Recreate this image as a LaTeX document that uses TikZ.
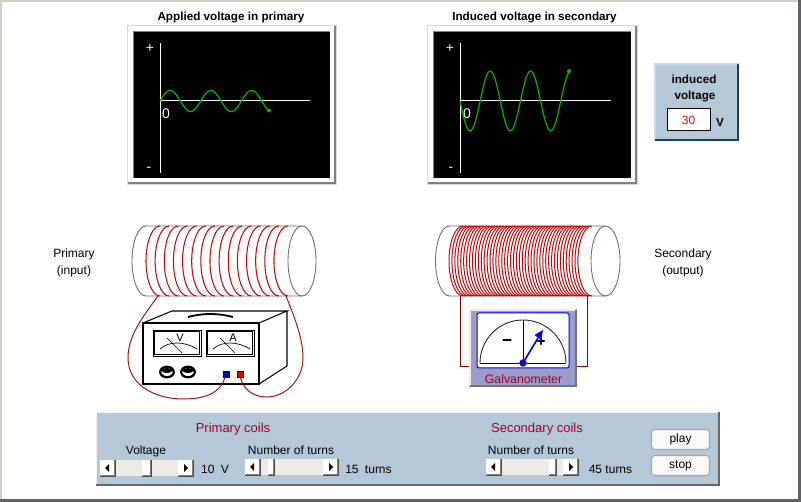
\documentclass[tikz,border=0pt]{standalone}
\usepackage{fontspec}
\setmainfont{Liberation Sans}
\definecolor{panelblue}{HTML}{B5C8D8}
\definecolor{panellight}{HTML}{C5D8F0}
\definecolor{paneldark}{HTML}{1F3F66}
\definecolor{coilred}{HTML}{C00808}
\definecolor{wirered}{HTML}{A01515}
\definecolor{darkwire}{HTML}{8C0000}
\definecolor{tubegray}{HTML}{707070}
\definecolor{galvblue}{HTML}{9C9CCC}
\definecolor{headred}{HTML}{A00020}
\definecolor{trackgray}{HTML}{EDEBE8}
\definecolor{wavegreen}{HTML}{00B400}
\definecolor{framelight}{HTML}{D4D0C8}
\definecolor{framedark}{HTML}{606068}
\tikzset{
  lbl/.style={inner sep=0pt,yshift=-1.2pt,font=\fontsize{12}{14}\selectfont,text=black},
  boldlbl/.style={lbl,font=\fontsize{11.7}{14}\selectfont\bfseries},
  headlbl/.style={lbl,font=\fontsize{13}{15}\selectfont,text=headred},
  axislbl/.style={lbl,text=white,font=\fontsize{14}{16}\selectfont},
  axisline/.style={white,line width=1pt},
  wave/.style={wavegreen,line width=1.2pt,smooth},
  tube/.style={tubegray,line width=0.9pt},
  coilturn/.style={coilred,line width=1.05pt},
  fineturn/.style={coilred,line width=1pt},
  wire/.style={wirered,line width=1pt},
  boxline/.style={black,line width=1.05pt},
}
% scroll bar: x1 x2 y1 y2 thumb1 thumb2
\newcommand{\sliderbar}[6]{%
  \fill[trackgray] (#1,#3) rectangle (#2,#4);
  \pgfmathsetmacro{\btnr}{#1+15}
  \pgfmathsetmacro{\btnl}{#2-15}
  \pgfmathsetmacro{\ymid}{(#3+#4)/2}
  \foreach \xa/\xb in {#1/\btnr,\btnl/#2,#5/#6}{
    \fill[white] (\xa,#3) rectangle (\xb,#4);
    \draw[gray,line width=1pt] (\xa+0.5,#4-0.5) -- (\xb-0.5,#4-0.5) -- (\xb-0.5,#3+0.5);
    \draw[black!70,line width=0.6pt] (\xa,#4) -- (\xb,#4) -- (\xb,#3);
  }
  \pgfmathsetmacro{\ctl}{#1+7.5}
  \pgfmathsetmacro{\ctr}{#2-7.5}
  \fill[black] (\ctl-2.5,\ymid) -- (\ctl+1.5,\ymid-4) -- (\ctl+1.5,\ymid+4) -- cycle;
  \fill[black] (\ctr+2.5,\ymid) -- (\ctr-1.5,\ymid-4) -- (\ctr-1.5,\ymid+4) -- cycle;
}
% raised panel: x1 y1 x2 y2 fill light dark
\newcommand{\raisedpanel}[7]{%
  \fill[#5] (#1,#2) rectangle (#3,#4);
  \draw[#6,line width=2pt] (#1+1,#4-1) -- (#1+1,#2+1) -- (#3-1,#2+1);
  \draw[#7,line width=2pt] (#1+1,#4-1) -- (#3-1,#4-1) -- (#3-1,#2+1);
}
\begin{document}
\begin{tikzpicture}[x=1pt,y=-1pt]
\useasboundingbox (0,0) rectangle (801,502);
\fill[white] (0,0) rectangle (801,502);
% window frame
\fill[framelight] (0,0) rectangle (801,2);
\fill[framelight] (0,0) rectangle (2,502);
\fill[framedark] (798,0) rectangle (801,502);
\fill[framedark] (0,499) rectangle (801,502);

% --- graph 1
\node[boldlbl] (title1) at (231,16) {Applied voltage in primary};
\raisedpanel{127}{25}{336}{184}{white}{white}{gray}
\draw[black!15,line width=0.5pt] (127,25) rectangle (336,184);
\fill[black] (133,31) rectangle (330,178);
\draw[gray,line width=0.7pt] (133,178) -- (133,31) -- (330,31);
\coordinate (v1a) at (160,43); \coordinate (v1b) at (160,173);
\coordinate (h1a) at (160,101); \coordinate (h1b) at (310,101);
\draw[axisline] (v1a) -- (v1b);
\draw[axisline] (h1a) -- (h1b);
\node[axislbl,text=yellow!25!white] (plus1) at (150,47) {+};
\node[axislbl] (minus1) at (149,168) {-};
\node[axislbl] (zero1) at (166,112.5) {0};
\draw[wave] plot[domain=160:269,samples=90] (\x,{101-10.5*sin(8.845*(\x-160))});
\fill[wavegreen] (269,110.5) circle (2);

% --- graph 2
\node[boldlbl] (title2) at (534.5,16) {Induced voltage in secondary};
\raisedpanel{427}{25}{637}{184}{white}{white}{gray}
\draw[black!15,line width=0.5pt] (427,25) rectangle (637,184);
\fill[black] (433,31) rectangle (631,178);
\draw[gray,line width=0.7pt] (433,178) -- (433,31) -- (631,31);
\coordinate (v2a) at (460,43); \coordinate (v2b) at (460,173);
\coordinate (h2a) at (460,101); \coordinate (h2b) at (611,101);
\draw[axisline] (v2a) -- (v2b);
\draw[axisline] (h2a) -- (h2b);
\node[axislbl,text=yellow!25!white] (plus2) at (450,47) {+};
\node[axislbl] (minus2) at (451,168) {-};
\node[axislbl] (zero2) at (467,112.5) {0};
\draw[wave] plot[domain=460:569,samples=90] (\x,{101+30*sin(8.933*(\x-460))});
\fill[wavegreen] (569,71) circle (2);

% --- induced voltage readout
\raisedpanel{654}{63}{739}{141}{panelblue}{panellight}{paneldark}
\node[boldlbl] (ind1) at (694,78) {induced};
\node[boldlbl] (ind2) at (695,95) {voltage};
\node[draw=black,line width=1pt,fill=white,minimum width=43pt,minimum height=22pt,inner sep=0pt,font=\fontsize{12}{14}\selectfont,text=red] (readout) at (688.5,120) {30};
\node[boldlbl] (unit) at (720,121) {V};

% --- side labels
\node[lbl] (pri1) at (74,253) {Primary};
\node[lbl] (pri2) at (74,270) {(input)};
\node[lbl] (sec1) at (683,253) {Secondary};
\node[lbl] (sec2) at (683,270) {(output)};

% --- primary coil tube
\draw[tube] (302,226) -- (146,226) arc[start angle=90,end angle=270,x radius=14pt,y radius=35pt] -- (302,296);
\draw[tube] (302,261) ellipse[x radius=14pt,y radius=35pt];
\foreach \i in {0,...,14}{
  \pgfmathsetmacro{\cx}{160+9.14*\i}
  \draw[coilturn] (\cx,226) arc[start angle=90,end angle=270,x radius=14pt,y radius=35pt];
}

% --- secondary coil tube
\draw[tube] (605.5,226) -- (449.5,226) arc[start angle=90,end angle=270,x radius=14pt,y radius=35pt] -- (605.5,296);
\draw[tube] (605.5,261) ellipse[x radius=14.5pt,y radius=35pt];
\foreach \i in {0,...,44}{
  \pgfmathsetmacro{\cx}{463+2.93*\i}
  \draw[fineturn] (\cx,226) arc[start angle=90,end angle=270,x radius=14pt,y radius=35pt];
}

% --- power supply
\fill[white] (143,323) -- (172,311) -- (287,311) -- (287,366) -- (259,384) -- (143,384) -- cycle;
\draw[boxline] (143,323) rectangle (259,384);
\draw[boxline] (143,323) -- (172,311) -- (287,311) -- (259,323);
\draw[boxline] (287,311) -- (287,366) -- (259,384);
\draw[black,line width=1.8pt] (188,317) .. controls (203,313) and (218,313) .. (233,317);
\foreach \mx/\lt in {153/V,206/A}{
  \draw[black,line width=0.9pt] (\mx,330) rectangle ++(48,26);
  \draw[black,line width=0.7pt] (\mx+1.5,331.5) rectangle ++(45,23);
  \draw[black,line width=0.7pt] (\mx+7,349) .. controls (\mx+16,341) and (\mx+31,341) .. (\mx+44,349);
  \draw[black,line width=0.7pt] (\mx+14,338) -- (\mx+29,353);
  \node[lbl,font=\fontsize{11}{12}\selectfont] at (\mx+27,337) {\lt};
}
\foreach \kx in {167,188}{
  \draw[black,line width=2.2pt,fill=white] (\kx,372) ellipse[x radius=6.8pt,y radius=5.3pt];
  \fill[black] (\kx,370.5) ellipse[x radius=5.5pt,y radius=2.5pt];
}
\fill[blue!85!black] (223.5,371) rectangle (229.5,377);
\draw[black!80!blue,line width=0.6pt] (223.5,371) rectangle (229.5,377);
\fill[red!85!black] (237.5,371) rectangle (243.5,377);
\draw[black!70!red,line width=0.6pt] (237.5,371) rectangle (243.5,377);
\coordinate (blueterm) at (225,377);
\coordinate (redterm) at (240,377);
\coordinate (p1end) at (158,296);
\coordinate (p2end) at (286,296);
\draw[wire] (p1end) .. controls (142,318) and (128,336) .. (128,358)
   .. controls (128,385) and (155,399) .. (183,399)
   .. controls (205,399) and (221,393) .. (blueterm);
\draw[wire] (p2end) .. controls (294,316) and (303,338) .. (303,358)
   .. controls (303,380) and (285,397) .. (267,397)
   .. controls (253,397) and (244,390) .. (redterm);

% --- galvanometer wires
\coordinate (g1) at (460,296); \coordinate (g1c) at (460,367); \coordinate (g1e) at (470,367);
\coordinate (g2) at (587,296); \coordinate (g2c) at (587,367); \coordinate (g2e) at (576,367);
\draw[darkwire,line width=1pt] (g1) -- (g1c) -- (g1e);
\draw[darkwire,line width=1pt] (g2) -- (g2c) -- (g2e);

% --- galvanometer
\raisedpanel{469}{309}{577}{387}{galvblue}{black!8}{black!55}
\draw[blue!90!black,line width=1pt,fill=white,rounded corners=2pt] (477,313) rectangle (569,368);
\draw[black,line width=0.9pt] (480,363) -- (566,363);
\draw[black!85,line width=0.9pt] (480,363) .. controls (480,339.5) and (499,320) .. (523,320)
   .. controls (547,320) and (566,339.5) .. (566,363);
\draw[black,line width=0.9pt] (523,320) -- (523,363);
\draw[black,line width=2.6pt,line cap=round] (503.5,340) -- (510.5,340);
\draw[black,line width=2.2pt,line cap=round] (538,341) -- (544,341);
\draw[black,line width=2.2pt,line cap=round] (541,338) -- (541,344);
\coordinate (pivot) at (523,363);
\coordinate (tip) at (543,330);
\draw[blue,line width=1.7pt] (pivot) -- (538,338);
\fill[blue] (tip) -- (534.5,335) -- (541,340) -- cycle;
\fill[blue!90!black] (pivot) circle (3.5);
\draw[black!70,line width=0.5pt] (pivot) circle (3.5);
\node[lbl,text=headred,font=\fontsize{12.3}{14}\selectfont] (galv) at (523.5,378) {Galvanometer};

% --- control panel
\fill[panelblue] (96,412) rectangle (719,486);
\draw[white!90!gray,line width=1.5pt] (96,412.5) -- (719,412.5);
\draw[white!90!gray,line width=1.5pt] (96.5,412) -- (96.5,486);
\draw[black!60,line width=2pt] (96,485.5) -- (719,485.5) -- (719,412);
\node[headlbl] (pcoils) at (233,428) {Primary coils};
\node[headlbl] (scoils) at (537,428) {Secondary coils};
\node[lbl] (volt) at (146,450) {Voltage};
\node[lbl] (turns1) at (291,449) {Number of turns};
\node[lbl] (turns2) at (531,449) {Number of turns};
\node[lbl] (val1) at (215,468) {10\hspace{3pt} V};
\node[lbl] (val2) at (368.5,468) {15\hspace{3pt} turns};
\node[lbl] (val3) at (610.5,468) {45 turns};
\sliderbar{100}{193}{460}{476}{142}{151}
\sliderbar{245}{338}{459}{475}{268}{274}
\sliderbar{486}{578}{459}{475}{549}{556}
\node[draw=black!35,line width=1.2pt,fill=white!95!gray,rounded corners=3pt,minimum width=58pt,minimum height=20pt,inner sep=0pt,font=\fontsize{12}{14}\selectfont] (play) at (680.5,439.5) {play};
\node[draw=black!35,line width=1.2pt,fill=white!95!gray,rounded corners=3pt,minimum width=58pt,minimum height=20pt,inner sep=0pt,font=\fontsize{12}{14}\selectfont] (stop) at (680.5,465.5) {stop};
\end{tikzpicture}
\end{document}
